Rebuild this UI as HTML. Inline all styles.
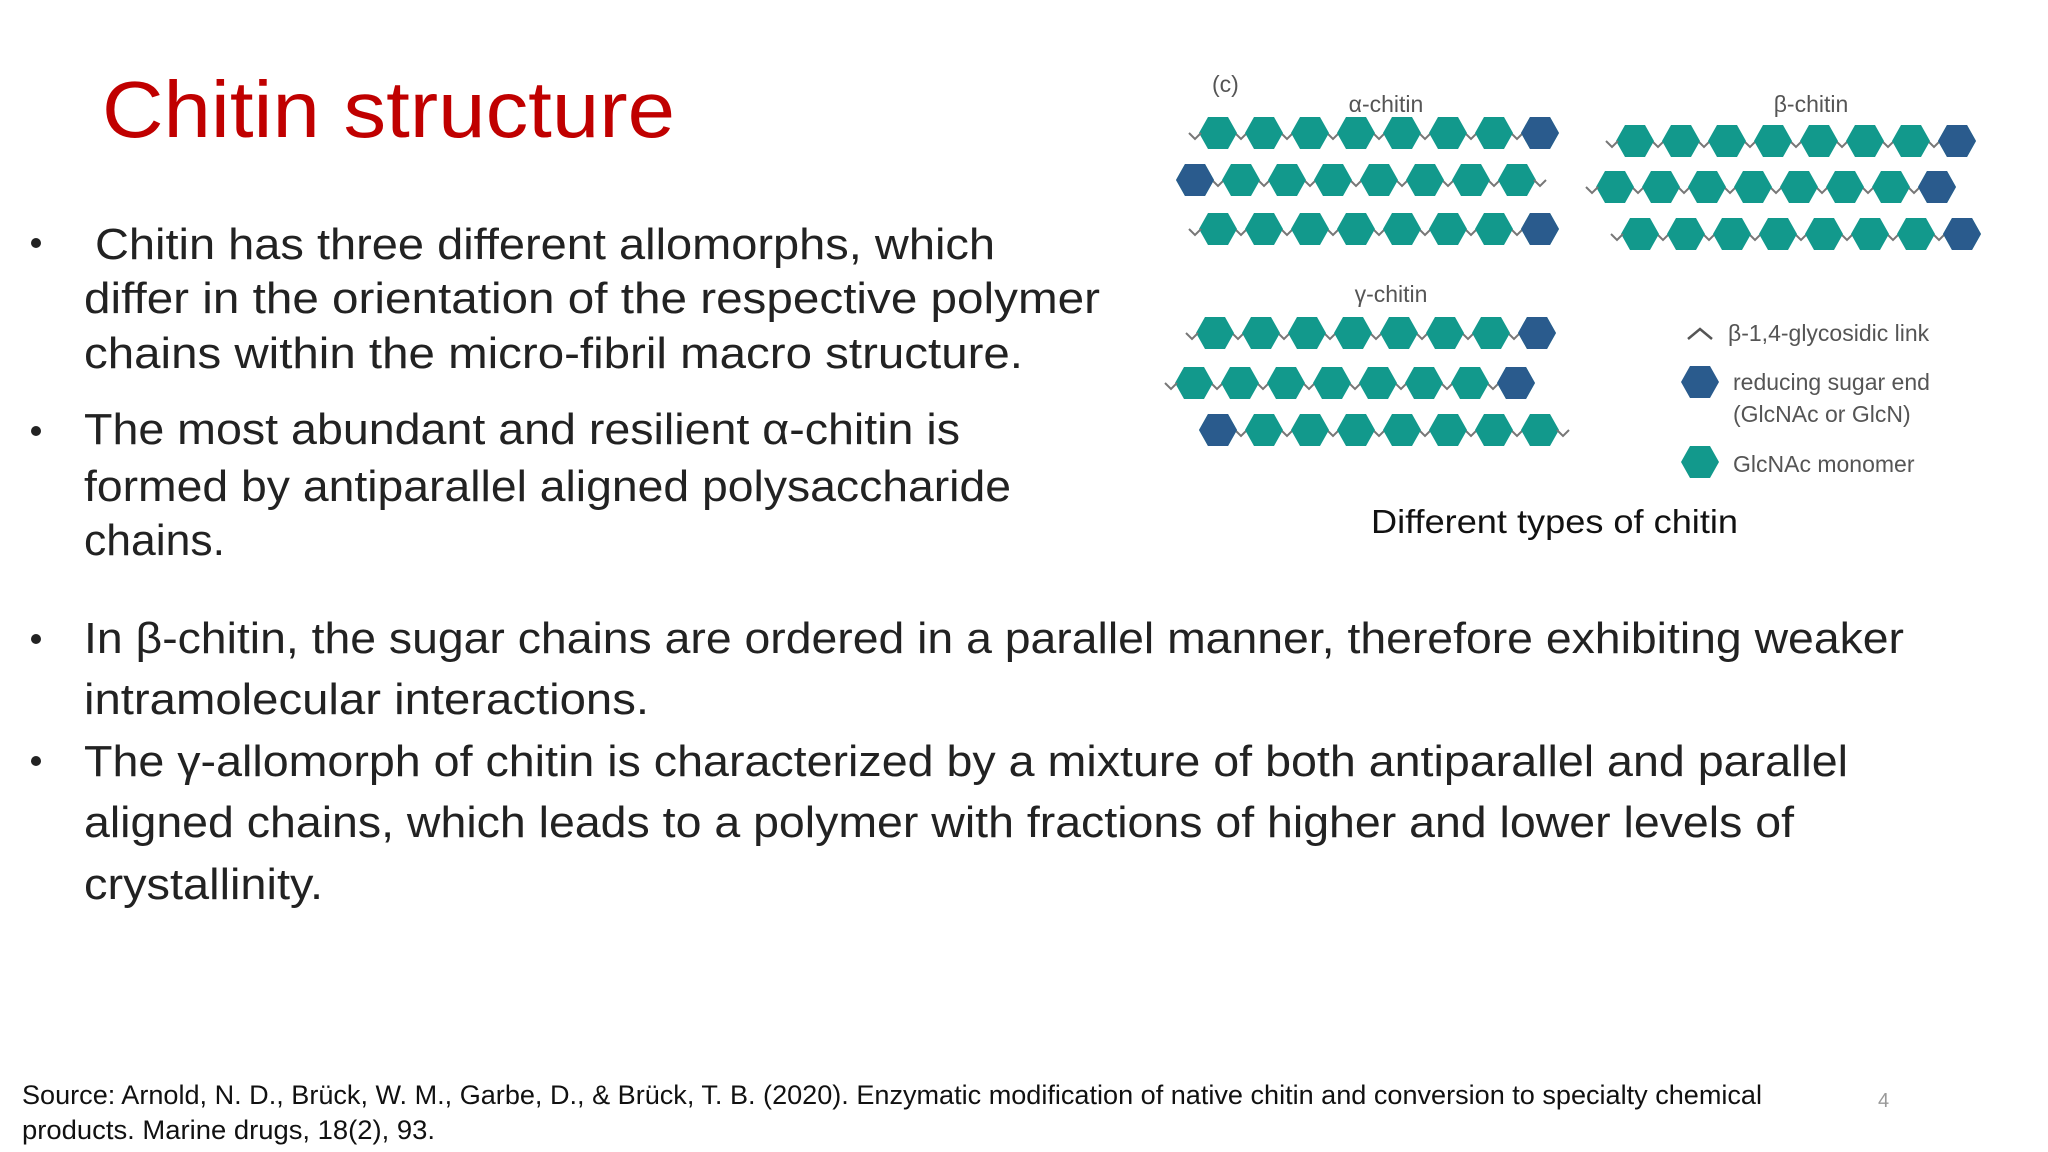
<!DOCTYPE html>
<html><head><meta charset="utf-8"><style>
html,body{margin:0;padding:0;background:#fff;}
svg{display:block;}
.b{font-family:"Liberation Sans",sans-serif;font-size:44px;fill:#222;}
.d{font-family:"Liberation Sans",sans-serif;font-size:23px;fill:#555;}
.s{font-family:"Liberation Sans",sans-serif;font-size:27px;fill:#111;}
</style></head><body>
<svg width="2048" height="1152" viewBox="0 0 2048 1152" xmlns="http://www.w3.org/2000/svg">
<defs>
<path id="h" d="M-19 0 L-10 -16 L10 -16 L19 0 L10 16 L-10 16 Z"/>
<path id="l" d="M17 0 L23 6 L29 0" fill="none" stroke="#777" stroke-width="2"/>
<g id="row" fill="#12998c">
<use href="#l" x="0"/><use href="#l" x="46"/><use href="#l" x="92"/><use href="#l" x="138"/><use href="#l" x="184"/><use href="#l" x="230"/><use href="#l" x="276"/>
<use href="#h" x="0"/><use href="#h" x="46"/><use href="#h" x="92"/><use href="#h" x="138"/><use href="#h" x="184"/><use href="#h" x="230"/><use href="#h" x="276"/><use href="#h" x="322"/>
</g>
</defs>
<rect width="2048" height="1152" fill="#fff"/>
<text x="102" y="137" font-family="Liberation Sans,sans-serif" font-size="80" fill="#c00000" textLength="573" lengthAdjust="spacingAndGlyphs">Chitin structure</text>

<g fill="#222">
<circle cx="36" cy="243" r="5"/><circle cx="36" cy="431" r="5"/><circle cx="36" cy="639" r="5"/><circle cx="36" cy="761" r="5"/>
</g>
<text class="b" x="95" y="259" textLength="900" lengthAdjust="spacingAndGlyphs">Chitin has three different allomorphs, which</text>
<text class="b" x="84" y="313" textLength="1016" lengthAdjust="spacingAndGlyphs">differ in the orientation of the respective polymer</text>
<text class="b" x="84" y="368" textLength="939" lengthAdjust="spacingAndGlyphs">chains within the micro-fibril macro structure.</text>
<text class="b" x="84" y="444" textLength="876" lengthAdjust="spacingAndGlyphs">The most abundant and resilient α-chitin is</text>
<text class="b" x="84" y="501" textLength="927" lengthAdjust="spacingAndGlyphs">formed by antiparallel aligned polysaccharide</text>
<text class="b" x="84" y="555" textLength="141" lengthAdjust="spacingAndGlyphs">chains.</text>
<text class="b" x="84" y="653" textLength="1820" lengthAdjust="spacingAndGlyphs">In β-chitin, the sugar chains are ordered in a parallel manner, therefore exhibiting weaker</text>
<text class="b" x="84" y="714" textLength="565" lengthAdjust="spacingAndGlyphs">intramolecular interactions.</text>
<text class="b" x="84" y="776" textLength="1764" lengthAdjust="spacingAndGlyphs">The γ-allomorph of chitin is characterized by a mixture of both antiparallel and parallel</text>
<text class="b" x="84" y="837" textLength="1710" lengthAdjust="spacingAndGlyphs">aligned chains, which leads to a polymer with fractions of higher and lower levels of</text>
<text class="b" x="84" y="899" textLength="239" lengthAdjust="spacingAndGlyphs">crystallinity.</text>

<text class="s" x="22" y="1104" textLength="1740" lengthAdjust="spacingAndGlyphs">Source: Arnold, N. D., Brück, W. M., Garbe, D., &amp; Brück, T. B. (2020). Enzymatic modification of native chitin and conversion to specialty chemical</text>
<text class="s" x="22" y="1139" textLength="413" lengthAdjust="spacingAndGlyphs">products. Marine drugs, 18(2), 93.</text>
<text x="1878" y="1107" font-family="Liberation Sans,sans-serif" font-size="20" fill="#999">4</text>

<text class="d" x="1212" y="92" font-size="26">(c)</text>
<text class="d" x="1386" y="112" text-anchor="middle">α-chitin</text>
<text class="d" x="1811" y="112" text-anchor="middle">β-chitin</text>
<text class="d" x="1391" y="302" text-anchor="middle">γ-chitin</text>

<use href="#row" x="1218" y="133"/><use href="#l" x="1172" y="133"/><use href="#h" x="1540" y="133" fill="#2a5b8d"/>
<use href="#row" x="1195" y="180"/><use href="#l" x="1517" y="180"/><use href="#h" x="1195" y="180" fill="#2a5b8d"/>
<use href="#row" x="1218" y="229"/><use href="#l" x="1172" y="229"/><use href="#h" x="1540" y="229" fill="#2a5b8d"/>
<use href="#row" x="1635" y="141"/><use href="#l" x="1589" y="141"/><use href="#h" x="1957" y="141" fill="#2a5b8d"/>
<use href="#row" x="1615" y="187"/><use href="#l" x="1569" y="187"/><use href="#h" x="1937" y="187" fill="#2a5b8d"/>
<use href="#row" x="1640" y="234"/><use href="#l" x="1594" y="234"/><use href="#h" x="1962" y="234" fill="#2a5b8d"/>
<use href="#row" x="1215" y="333"/><use href="#l" x="1169" y="333"/><use href="#h" x="1537" y="333" fill="#2a5b8d"/>
<use href="#row" x="1194" y="383"/><use href="#l" x="1148" y="383"/><use href="#h" x="1516" y="383" fill="#2a5b8d"/>
<use href="#row" x="1218" y="430"/><use href="#l" x="1540" y="430"/><use href="#h" x="1218" y="430" fill="#2a5b8d"/>

<path d="M1688 339 L1700 329 L1712 339" fill="none" stroke="#555" stroke-width="2.5"/>
<text class="d" x="1728" y="341">β-1,4-glycosidic link</text>
<use href="#h" x="1700" y="382" fill="#2a5b8d"/>
<text class="d" x="1733" y="390">reducing sugar end</text>
<text class="d" x="1733" y="422">(GlcNAc or GlcN)</text>
<use href="#h" x="1700" y="462" fill="#12998c"/>
<text class="d" x="1733" y="472">GlcNAc monomer</text>

<text x="1371" y="533" font-family="Liberation Sans,sans-serif" font-size="33" fill="#111" textLength="367" lengthAdjust="spacingAndGlyphs">Different types of chitin</text>
</svg>
</body></html>
